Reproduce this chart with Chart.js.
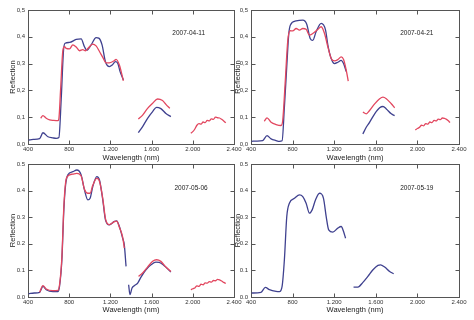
<!DOCTYPE html>
<html>
<head>
<meta charset="utf-8">
<script src="https://cdn.jsdelivr.net/npm/chart.js@4.4.0/dist/chart.umd.min.js"></script>
<style>
    body { margin: 0; background: #fff; }
    #wrap { position: relative; width: 474px; height: 320px; }
    #wrap canvas { position: absolute; left: 0; top: 0; }
</style>
</head>
<body>
<div id="wrap">
    <canvas id="chart1" width="474" height="320"></canvas>
    <canvas id="chart2" width="474" height="320"></canvas>
    <canvas id="chart3" width="474" height="320"></canvas>
    <canvas id="chart4" width="474" height="320"></canvas>
</div>
<script>
// dates shown in each panel
const dates = ['2007-04-11', '2007-04-21', '2007-05-06', '2007-05-19'];

// tick values
const xTicks = [400, 800, 1200, 1600, 2000, 2400];
const yTicks = [0, 0.1, 0.2, 0.3, 0.4, 0.5];

// panel 1 (2007-04-11)
const wl1Blue = [406, 450, 513, 545, 594, 640, 674, 700, 722, 745, 761, 803, 868, 916, 948, 971, 1013, 1061, 1087, 1119, 1152, 1190, 1223, 1248, 1271, 1294, 1326,
    1400, 1471, 1513, 1561, 1610, 1648, 1690, 1739, 1787];
const r1Blue = [0.015, 0.017, 0.02, 0.042, 0.027, 0.023, 0.021, 0.024, 0.164, 0.35, 0.376, 0.379, 0.39, 0.392, 0.363, 0.35, 0.37, 0.397, 0.395, 0.37, 0.307, 0.289, 0.297, 0.307, 0.302, 0.27, 0.239,
    null, 0.042, 0.065, 0.096, 0.121, 0.137, 0.132, 0.114, 0.102];
const wl1Red = [523, 545, 577, 610, 650, 690, 700, 716, 739, 755, 771, 803, 835, 868, 900, 932, 958, 981, 1029, 1061, 1094, 1126, 1158, 1190, 1239, 1255, 1287, 1326,
    1400, 1471, 1513, 1561, 1610, 1658, 1706, 1739, 1777,
    1880, 1981, 2000, 2020, 2040, 2060, 2080, 2100, 2120, 2140, 2160, 2180, 2200, 2220, 2240, 2260, 2280, 2300, 2320];
const r1Red = [0.096, 0.106, 0.096, 0.09, 0.088, 0.087, 0.095, 0.2, 0.35, 0.363, 0.357, 0.355, 0.37, 0.362, 0.348, 0.352, 0.348, 0.356, 0.373, 0.366, 0.345, 0.323, 0.303, 0.303, 0.311, 0.316, 0.295, 0.236,
    null, 0.093, 0.108, 0.133, 0.152, 0.168, 0.162, 0.148, 0.133,
    null, 0.04, 0.046, 0.056, 0.07, 0.076, 0.074, 0.082, 0.08, 0.088, 0.086, 0.094, 0.092, 0.1, 0.098, 0.097, 0.092, 0.086, 0.079];

// panel 2 (2007-04-21)
const wl2Blue = [406, 450, 512, 554, 593, 640, 673, 699, 721, 744, 763, 779, 834, 898, 936, 969, 994, 1026, 1075, 1117, 1139, 1171, 1203, 1235, 1267, 1290, 1316,
    1400, 1476, 1508, 1540, 1589, 1637, 1669, 1701, 1749, 1781];
const r2Blue = [0.01, 0.011, 0.0125, 0.031, 0.019, 0.013, 0.01, 0.012, 0.137, 0.29, 0.41, 0.444, 0.459, 0.462, 0.447, 0.394, 0.387, 0.419, 0.45, 0.425, 0.369, 0.319, 0.3, 0.305, 0.312, 0.3, 0.27,
    null, 0.0375, 0.0625, 0.081, 0.1125, 0.135, 0.14, 0.131, 0.1125, 0.106];
const wl2Red = [528, 554, 593, 641, 689, 705, 728, 754, 776, 801, 834, 866, 898, 930, 962, 994, 1042, 1075, 1107, 1139, 1171, 1203, 1235, 1267, 1290, 1316, 1335,
    1400, 1476, 1508, 1540, 1589, 1637, 1669, 1701, 1749, 1781,
    1880, 1980, 2000, 2020, 2040, 2060, 2080, 2100, 2120, 2140, 2160, 2180, 2200, 2220, 2240, 2260, 2280, 2300, 2312];
const r2Red = [0.085, 0.0975, 0.081, 0.0725, 0.069, 0.0875, 0.225, 0.387, 0.4225, 0.422, 0.431, 0.425, 0.431, 0.428, 0.406, 0.4125, 0.4275, 0.4375, 0.4125, 0.3625, 0.319, 0.31, 0.315, 0.325, 0.315, 0.275, 0.235,
    null, 0.119, 0.1125, 0.125, 0.15, 0.169, 0.175, 0.169, 0.15, 0.135,
    null, 0.0525, 0.058, 0.062, 0.07, 0.068, 0.076, 0.074, 0.082, 0.08, 0.088, 0.086, 0.093, 0.091, 0.097, 0.096, 0.092, 0.086, 0.08, 0.075];

// panel 3 (2007-05-06)
const wl3Blue = [406, 460, 513, 545, 577, 642, 690, 706, 729, 748, 765, 787, 835, 874, 916, 948, 981, 1003, 1029, 1068, 1094, 1126, 1152, 1190, 1239, 1261, 1287, 1319, 1335, 1352,
    1365, 1377, 1390, 1410, 1432, 1465, 1497, 1545, 1594, 1642, 1674, 1723, 1787];
const r3Blue = [0.0125, 0.015, 0.0175, 0.04, 0.0275, 0.02, 0.02, 0.04, 0.14, 0.3275, 0.421, 0.459, 0.471, 0.4775, 0.459, 0.4025, 0.365, 0.371, 0.415, 0.4525, 0.44, 0.365, 0.29, 0.271, 0.284, 0.286, 0.265, 0.221, 0.196, 0.115,
    null, 0.046, 0.009, 0.034, 0.0425, 0.0525, 0.075, 0.1025, 0.121, 0.131, 0.13, 0.1175, 0.094];
const wl3Red = [513, 545, 577, 642, 690, 706, 729, 748, 765, 787, 835, 874, 916, 948, 981, 1003, 1029, 1068, 1094, 1126, 1152, 1190, 1239, 1261, 1287, 1319, 1335,
    1400, 1474, 1513, 1561, 1610, 1648, 1690, 1739, 1787,
    1880, 1981, 2000, 2020, 2040, 2060, 2080, 2100, 2120, 2140, 2160, 2180, 2200, 2220, 2240, 2260, 2280, 2300, 2320];
const r3Red = [0.018, 0.0425, 0.03, 0.024, 0.025, 0.045, 0.15, 0.34, 0.43, 0.455, 0.462, 0.465, 0.455, 0.405, 0.39, 0.39, 0.42, 0.446, 0.435, 0.37, 0.295, 0.272, 0.283, 0.285, 0.262, 0.225, 0.184,
    null, 0.0775, 0.09, 0.1125, 0.134, 0.14, 0.134, 0.1125, 0.096,
    null, 0.0275, 0.031, 0.034, 0.042, 0.04, 0.048, 0.046, 0.053, 0.052, 0.058, 0.056, 0.062, 0.061, 0.066, 0.064, 0.06, 0.055, 0.051, 0.049];

// panel 4 (2007-05-19)
const wl4Blue = [406, 496, 538, 577, 641, 673, 699, 721, 744, 769, 818, 866, 898, 930, 962, 988, 1020, 1059, 1097, 1123, 1147, 1187, 1235, 1267, 1290, 1309,
    1350, 1386, 1428, 1476, 1524, 1573, 1621, 1646, 1685, 1733, 1772];
const r4Blue = [0.015, 0.0175, 0.036, 0.0275, 0.021, 0.02, 0.04, 0.14, 0.3025, 0.3525, 0.371, 0.384, 0.3775, 0.3525, 0.315, 0.3275, 0.365, 0.39, 0.371, 0.3025, 0.2525, 0.244, 0.259, 0.265, 0.246, 0.221,
    null, 0.0375, 0.0375, 0.055, 0.0775, 0.1025, 0.119, 0.121, 0.1125, 0.096, 0.0875];

const blue = '#3f418f';
const red = '#e2475f';

Chart.defaults.font.family = "'Liberation Sans', Arial, sans-serif";
Chart.defaults.color = '#333';

function pts(wl, r) {
    return wl.map(function (x, i) { return { x: x, y: r[i] }; });
}

function fmtX(v) {
    if (v < 1000) return String(v);
    return Math.floor(v / 1000) + '.' + String(v % 1000).padStart(3, '0');
}

// frame with inward ticks on all four sides, plus the date label
const framePlugin = {
    id: 'frame',
    beforeDatasetsDraw(chart, args, opts) {
        const ctx = chart.ctx;
        const a = chart.chartArea;
        const sx = chart.scales.x, sy = chart.scales.y;
        const L = Math.round(a.left) + 0.5, R = Math.round(a.right) + 0.5;
        const T = Math.round(a.top) + 0.5, B = Math.round(a.bottom) + 0.5;
        ctx.save();
        ctx.strokeStyle = '#555';
        ctx.lineWidth = 1;
        ctx.strokeRect(L, T, R - L, B - T);
        ctx.beginPath();
        xTicks.forEach(function (v) {
            const px = Math.round(sx.getPixelForValue(v)) + 0.5;
            ctx.moveTo(px, T); ctx.lineTo(px, T + 4);
            ctx.moveTo(px, B); ctx.lineTo(px, B - 4);
        });
        yTicks.forEach(function (v) {
            const py = Math.round(sy.getPixelForValue(v)) + 0.5;
            ctx.moveTo(L, py); ctx.lineTo(L + 4, py);
            ctx.moveTo(R, py); ctx.lineTo(R - 4, py);
        });
        ctx.stroke();
        ctx.fillStyle = '#222';
        ctx.font = "6.5px 'Liberation Sans', Arial, sans-serif";
        ctx.textAlign = 'center';
        ctx.textBaseline = 'middle';
        ctx.fillText(opts.label, sx.getPixelForValue(opts.x), sy.getPixelForValue(opts.y));
        ctx.restore();
    }
};

function makeChart(id, datasets, p) {
    return new Chart(document.getElementById(id), {
        type: 'line',
        data: { datasets: datasets },
        plugins: [framePlugin],
        options: {
            responsive: false,
            animation: false,
            devicePixelRatio: 1,
            layout: { padding: { left: p.left, right: p.right, top: p.top, bottom: p.bottom } },
            plugins: {
                legend: { display: false },
                tooltip: { enabled: false },
                frame: { label: p.date, x: p.dateX, y: p.dateY }
            },
            elements: { point: { radius: 0 } },
            scales: {
                x: {
                    type: 'linear',
                    min: 400,
                    max: 2400,
                    afterFit: function (s) { s.height = 20; },
                    afterBuildTicks: function (s) { s.ticks = xTicks.map(function (v) { return { value: v }; }); },
                    grid: { display: false, drawTicks: false, tickLength: 0 },
                    border: { display: false },
                    ticks: {
                        autoSkip: false,
                        maxRotation: 0,
                        padding: 2,
                        font: { size: 6 },
                        callback: fmtX
                    },
                    title: {
                        display: true,
                        text: 'Wavelength (nm)',
                        color: '#222',
                        font: { size: 7.5 },
                        padding: { top: 0, bottom: p.xTitlePad }
                    }
                },
                y: {
                    min: 0,
                    max: 0.5,
                    afterFit: function (s) { s.width = 28; },
                    afterBuildTicks: function (s) { s.ticks = yTicks.map(function (v) { return { value: v }; }); },
                    grid: { display: false, drawTicks: false, tickLength: 0 },
                    border: { display: false },
                    ticks: {
                        padding: 3,
                        font: { size: 6 },
                        callback: function (v) {
                            const t = v.toFixed(1);
                            return p.comma ? t.replace('.', ',') : t;
                        }
                    },
                    title: {
                        display: true,
                        text: 'Reflection',
                        color: '#222',
                        font: { size: 7.5 },
                        padding: { top: p.yTitlePad, bottom: 0 }
                    }
                }
            }
        }
    });
}

function line(data, color) {
    return {
        data: data,
        borderColor: color,
        borderWidth: 1.3,
        fill: false,
        spanGaps: false,
        cubicInterpolationMode: 'monotone'
    };
}

makeChart('chart1', [
    line(pts(wl1Red, r1Red), red),
    line(pts(wl1Blue, r1Blue), blue)
], { left: 0, right: 240, top: 10, bottom: 156, comma: true, yTitlePad: 8, xTitlePad: 2, date: dates[0], dateX: 1960, dateY: 0.415 });

makeChart('chart2', [
    line(pts(wl2Red, r2Red), red),
    line(pts(wl2Blue, r2Blue), blue)
], { left: 223, right: 15, top: 10, bottom: 156, comma: true, yTitlePad: 10, xTitlePad: 2, date: dates[1], dateX: 1994, dateY: 0.415 });

makeChart('chart3', [
    line(pts(wl3Red, r3Red), red),
    line(pts(wl3Blue, r3Blue), blue)
], { left: 0, right: 240, top: 164, bottom: 3, comma: false, yTitlePad: 8, xTitlePad: 2.5, date: dates[2], dateX: 1983, dateY: 0.41 });

makeChart('chart4', [
    line(pts(wl4Blue, r4Blue), blue)
], { left: 223, right: 15, top: 164, bottom: 3, comma: false, yTitlePad: 10, xTitlePad: 2.5, date: dates[3], dateX: 1994, dateY: 0.41 });
</script>
</body>
</html>
